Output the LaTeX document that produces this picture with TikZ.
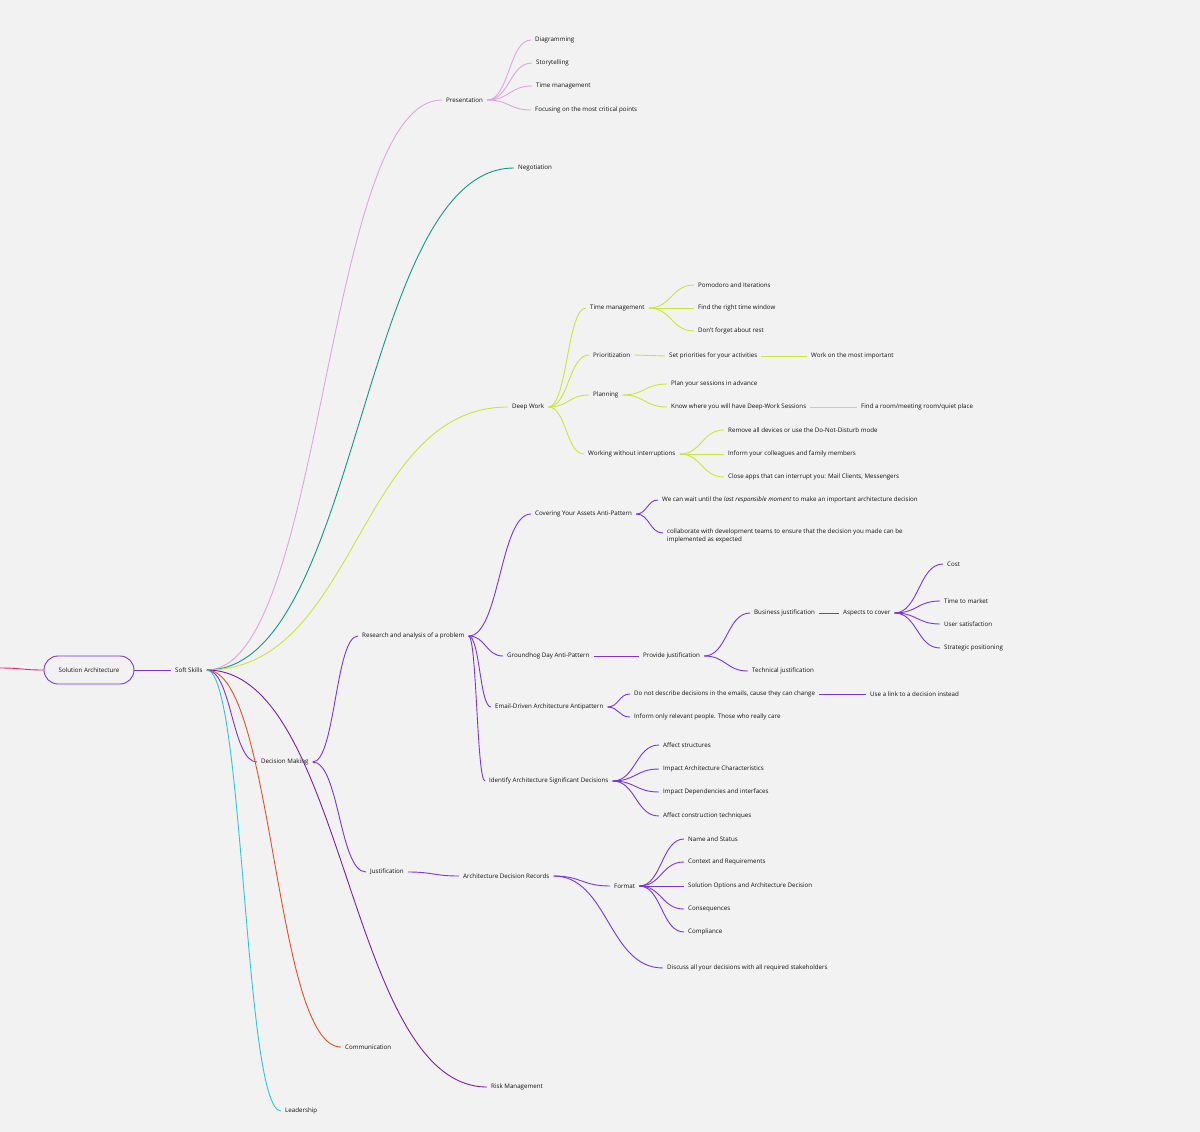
\documentclass[tikz,border=0pt]{standalone}
\usepackage{fontspec}
\usetikzlibrary{calc}
\setmainfont{Open Sans}
\definecolor{bg}{HTML}{F2F2F2}
\definecolor{cpink}{HTML}{E0A3DF}
\definecolor{cteal}{HTML}{12968A}
\definecolor{clime}{HTML}{C8E63A}
\definecolor{cviol}{HTML}{7A35DB}
\definecolor{cdpur}{HTML}{7B1FA2}
\definecolor{corg}{HTML}{E0522A}
\definecolor{ccyan}{HTML}{2EC6D6}
\definecolor{cmag}{HTML}{E0287A}
\definecolor{txt}{HTML}{111111}
\begin{document}
\begin{tikzpicture}[x=1pt,y=-1pt,
  t/.style={anchor=west,inner xsep=4pt,inner ysep=1pt,font=\fontsize{6.2}{7.6}\selectfont,text=txt},
  lk/.style={line width=0.9pt},
  e/.style={lk,to path={let \p1=(\tikztostart), \p2=(\tikztotarget) in .. controls ({(\x1+\x2)/2},\y1) and ({(\x1+\x2)/2},\y2) .. (\tikztotarget)}}]
\fill[bg] (0,0) rectangle (1200,1132);
\useasboundingbox (0,0) rectangle (1200,1132);
\node[draw=cviol,line width=0.9pt,rounded corners=14pt,minimum width=90pt,minimum height=28pt,font=\fontsize{6.2}{7.6}\selectfont,text=txt] (sa) at (89,670) {Solution Architecture};
\coordinate (lft) at (0,668);
\draw[e,cmag] (lft) to (sa.west);
\node[t] (ss) at (171,670) {Soft Skills};
\draw[lk,cviol] (sa.east) -- (ss.west);
% Presentation
\node[t] (pr) at (442,100) {Presentation};
\node[t] (p1) at (531,40) {Diagramming};
\node[t] (p2) at (532,63) {Storytelling};
\node[t] (p3) at (532,86) {Time management};
\node[t] (p4) at (531,110) {Focusing on the most critical points};
\draw[e,cpink] (ss.east) to (pr.west);
\foreach \k in {p1,p2,p3,p4} \draw[e,cpink] (pr.east) to (\k.west);
% Negotiation
\node[t] (ng) at (514,168) {Negotiation};
\draw[e,cteal] (ss.east) to (ng.west);
% Deep work
\node[t] (dw) at (508,407) {Deep Work};
\draw[e,clime] (ss.east) to (dw.west);
\node[t] (d1) at (586,308) {Time management};
\node[t] (d2) at (589,355) {Prioritization};
\node[t] (d3) at (589,395) {Planning};
\node[t] (d4) at (584,454) {Working without interruptions};
\foreach \k in {d1,d2,d3,d4} \draw[e,clime] (dw.east) to (\k.west);
\node[t] (d11) at (694,285) {Pomodoro and Iterations};
\node[t] (d12) at (694,308) {Find the right time window};
\node[t] (d13) at (694,331) {Don't forget about rest};
\foreach \k in {d11,d12,d13} \draw[e,clime] (d1.east) to (\k.west);
\node[t] (d21) at (665,356) {Set priorities for your activities};
\node[t] (d22) at (807,356) {Work on the most important};
\draw[e,clime] (d2.east) to (d21.west);
\draw[e,clime] (d21.east) to (d22.west);
\node[t] (d31) at (667,384) {Plan your sessions in advance};
\node[t] (d32) at (667,407) {Know where you will have Deep-Work Sessions};
\node[t] (d33) at (857,407) {Find a room/meeting room/quiet place};
\draw[e,clime] (d3.east) to (d31.west);
\draw[e,clime] (d3.east) to (d32.west);
\draw[e,clime] (d32.east) to (d33.west);
\node[t] (d41) at (724,430) {Remove all devices or use the Do-Not-Disturb mode};
\node[t] (d42) at (724,454) {Inform your colleagues and family members};
\node[t] (d43) at (724,477) {Close apps that can interrupt you: Mail Clients, Messengers};
\foreach \k in {d41,d42,d43} \draw[e,clime] (d4.east) to (\k.west);
% Decision making
\node[t] (dm) at (257,762) {Decision Making};
\draw[e,cviol] (ss.east) to (dm.west);
\node[t] (ra) at (358,636) {Research and analysis of a problem};
\node[t] (ju) at (366,872) {Justification};
\draw[e,cviol] (dm.east) to (ra.west);
\draw[e,cviol] (dm.east) to (ju.west);
\node[t] (r1) at (531,514) {Covering Your Assets Anti-Pattern};
\node[t] (r2) at (503,656) {Groundhog Day Anti-Pattern};
\node[t] (r3) at (491,707) {Email-Driven Architecture Antipattern};
\node[t] (r4) at (485,781) {Identify Architecture Significant Decisions};
\foreach \k in {r1,r2,r3,r4} \draw[e,cviol] (ra.east) to (\k.west);
\node[t] (r11) at (658,500) {We can wait until the \textit{last responsible moment} to make an important architecture decision};
\node[t,align=left] (r12) at (663,536) {collaborate with development teams to ensure that the decision you made can be\\implemented as expected};
\draw[e,cviol] (r1.east) to (r11.west);
\draw[e,cviol] (r1.east) to ([yshift=3pt]r12.west);
\node[t] (r21) at (639,656) {Provide justification};
\node[t] (r22) at (750,613) {Business justification};
\node[t] (r23) at (748,671) {Technical justification};
\node[t] (r24) at (839,613) {Aspects to cover};
\draw[e,cviol] (r2.east) to (r21.west);
\draw[e,cviol] (r21.east) to (r22.west);
\draw[e,cviol] (r21.east) to (r23.west);
\draw[e,cviol] (r22.east) to (r24.west);
\node[t] (a1) at (943,564) {Cost};
\node[t] (a2) at (940,601) {Time to market};
\node[t] (a3) at (940,624) {User satisfaction};
\node[t] (a4) at (940,648) {Strategic positioning};
\foreach \k in {a1,a2,a3,a4} \draw[e,cviol] (r24.east) to (\k.west);
\node[t] (r31) at (630,694) {Do not describe decisions in the emails, cause they can change};
\node[t] (r32) at (866,694) {Use a link to a decision instead};
\node[t] (r33) at (630,717) {Inform only relevant people. Those who really care};
\draw[e,cviol] (r3.east) to (r31.west);
\draw[e,cviol] (r3.east) to (r33.west);
\draw[e,cviol] (r31.east) to (r32.west);
\node[t] (r41) at (659,745) {Affect structures};
\node[t] (r42) at (659,769) {Impact Architecture Characteristics};
\node[t] (r43) at (659,792) {Impact Dependencies and interfaces};
\node[t] (r44) at (659,816) {Affect construction techniques};
\foreach \k in {r41,r42,r43,r44} \draw[e,cviol] (r4.east) to (\k.west);
\node[t] (adr) at (459,876) {Architecture Decision Records};
\draw[e,cviol] (ju.east) to (adr.west);
\node[t] (fo) at (610,886) {Format};
\node[t] (dis) at (663,968) {Discuss all your decisions with all required stakeholders};
\draw[e,cviol] (adr.east) to (fo.west);
\draw[e,cviol] (adr.east) to (dis.west);
\node[t] (f1) at (684,839) {Name and Status};
\node[t] (f2) at (684,862) {Context and Requirements};
\node[t] (f3) at (684,886) {Solution Options and Architecture Decision};
\node[t] (f4) at (684,909) {Consequences};
\node[t] (f5) at (684,932) {Compliance};
\foreach \k in {f1,f2,f3,f4,f5} \draw[e,cviol] (fo.east) to (\k.west);
% others
\node[t] (co) at (341,1047) {Communication};
\node[t] (rm) at (487,1087) {Risk Management};
\node[t] (le) at (281,1111) {Leadership};
\draw[e,corg] (ss.east) to (co.west);
\draw[e,cdpur] (ss.east) to (rm.west);
\draw[e,ccyan] (ss.east) to (le.west);
\end{tikzpicture}
\end{document}
